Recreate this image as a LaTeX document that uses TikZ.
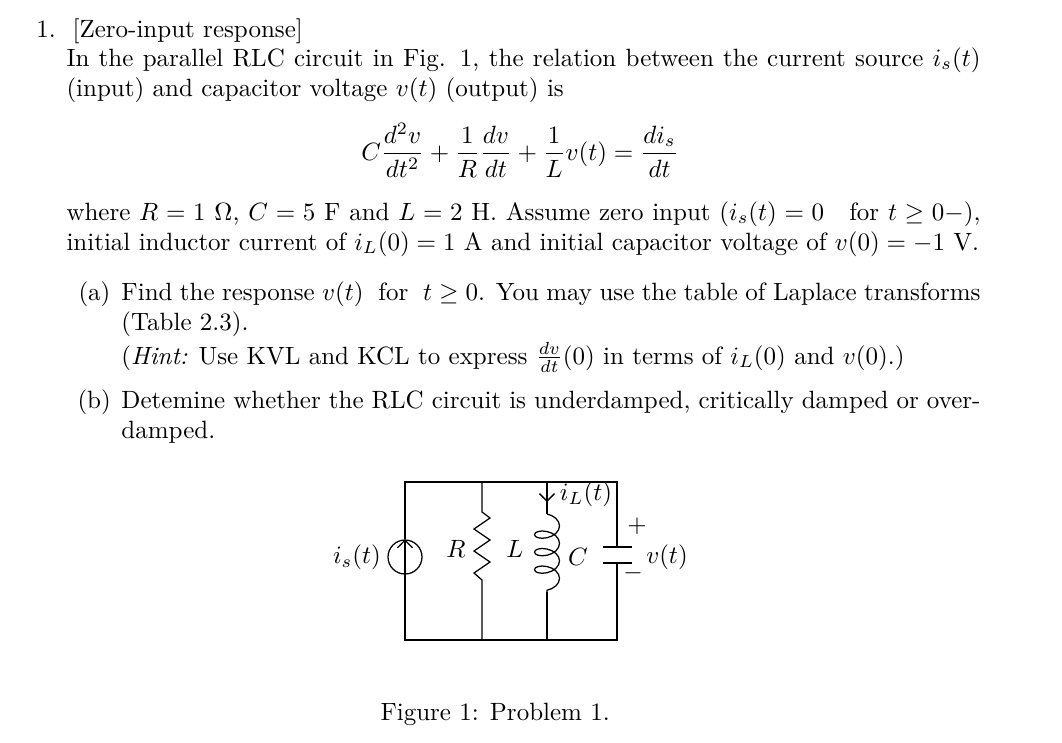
\documentclass[tikz,border=0pt]{standalone}
\usepackage{amsmath,amssymb}
\usetikzlibrary{decorations.pathmorphing,arrows.meta}
\begin{document}
\begin{tikzpicture}[x=0.4pt,y=-0.4pt,
  txt/.style={anchor=base west,inner sep=0pt},
  lab/.style={inner sep=0pt},
  wire/.style={line width=0.5pt}]
\useasboundingbox (0,0) rectangle (1062,742);
\node[txt] (l0) at (36,37) {1.\ \ [Zero-input response]};
\node[txt] (l1) at (66,66) {\makebox[365.6pt][s]{In the parallel RLC circuit in Fig. 1, the relation between the current source $i_s(t)$}};
\node[txt] (l2) at (66,96) {(input) and capacitor voltage $v(t)$ (output) is};
\node[lab] (eq) at (520,150) {$\displaystyle C\frac{d^2v}{dt^2}+\frac{1}{R}\frac{dv}{dt}+\frac{1}{L}v(t)=\frac{di_s}{dt}$};
\node[txt] (l3) at (66,220) {\makebox[365.6pt][s]{where $R=1~\Omega$, $C=5$ F and $L=2$ H. Assume zero input ($i_s(t)=0\quad$for $t\geq 0-$),}};
\node[txt] (l4) at (66,250) {initial inductor current of $i_L(0)=1$ A and initial capacitor voltage of $v(0)=-1$ V.};
\node[txt] (a0) at (78,300) {(a)};
\node[txt] (a1) at (121,300) {\makebox[343.6pt][s]{Find the response $v(t)$\ \ for\ \ $t\geq 0$. You may use the table of Laplace transforms}};
\node[txt] (a2) at (121,330) {(Table 2.3).};
\node[txt] (a3) at (121,364) {(\textit{Hint:} Use KVL and KCL to express $\frac{dv}{dt}(0)$ in terms of $i_L(0)$ and $v(0)$.)};
\node[txt] (b0) at (77,408) {(b)};
\node[txt] (b1) at (121,408) {\makebox[343.6pt][s]{Detemine whether the RLC circuit is underdamped, critically damped or over-}};
\node[txt] (b2) at (121,438) {damped.};
\node[txt] (cap) at (380,720) {Figure 1: Problem 1.};
% circuit
\coordinate (tl) at (405,482); \coordinate (bl) at (405,640);
\coordinate (tR) at (482,482); \coordinate (bR) at (482,640);
\coordinate (tL) at (547,482); \coordinate (bL) at (547,640);
\coordinate (tC) at (617,482); \coordinate (bC) at (617,640);
\node[draw,circle,minimum size=13.6pt,inner sep=0pt,line width=0.5pt] (src) at (405,557) {};
\draw[wire] (src.north) -- (tl) -- (tC) -- (617,547);
\draw[wire] (src.south) -- (bl) -- (bC) -- (617,563);
\draw[wire,-{Straight Barb[length=3pt]}] (src.south) -- (src.north);
\draw[wire] (tR) -- (482,512) -- (490,518) -- (474,529) -- (490,540) -- (474,551) -- (490,562) -- (474,573) -- (482,580) -- (bR);
\draw[wire] (tL) -- (547,514);
\draw[wire,-{Straight Barb[length=3pt]}] (547,490) -- (547,502);
\draw[wire,decorate,decoration={coil,amplitude=5pt,segment length=7pt,aspect=0.6}] (547,514) -- (547,592);
\draw[wire] (547,592) -- (bL);
\draw[wire] (603,547) -- (632,547) (603,563) -- (632,563);
\node[lab] (is) at (357,557) {$i_s(t)$};
\node[lab] (R) at (456,549) {$R$};
\node[lab] (L) at (515,549) {$L$};
\node[lab] (C) at (578,557) {$C$};
\node[lab] (iL) at (586,494) {$i_L(t)$};
\node[lab] (pl) at (637,526) {$+$};
\node[lab] (mi) at (633,573) {$-$};
\node[lab] (v) at (667,557) {$v(t)$};
\end{tikzpicture}
\end{document}
